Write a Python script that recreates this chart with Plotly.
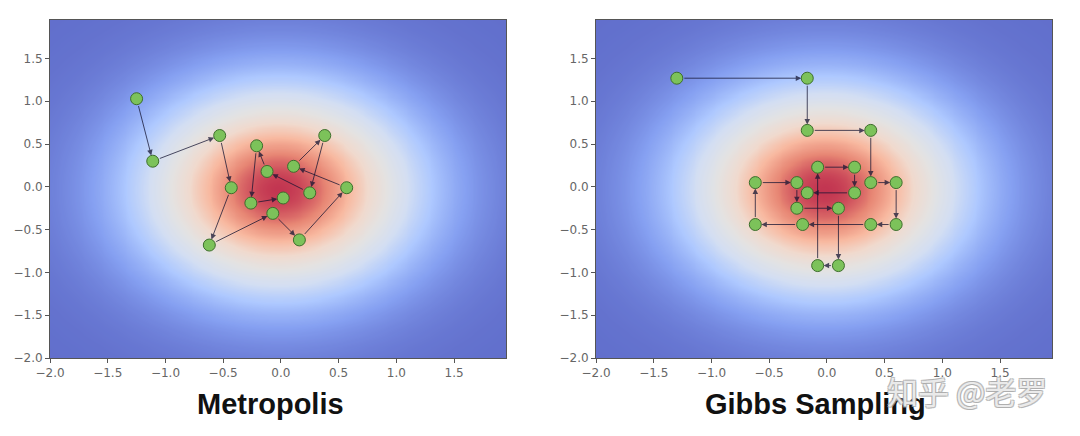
import numpy as np
import plotly.graph_objects as go

# Metropolis chain
metro_x = [-1.25, -1.11, -0.53, -0.43, -0.62, -0.07, 0.16, 0.57, 0.11, 0.38, 0.25, -0.12, -0.21, -0.26, 0.02]
metro_y = [1.03, 0.30, 0.60, -0.01, -0.68, -0.31, -0.62, -0.01, 0.24, 0.60, -0.07, 0.18, 0.48, -0.19, -0.13]

# Gibbs chain: every step moves along one axis only
gibbs_x = [-1.30, -0.17, -0.17, 0.38, 0.38, 0.60, 0.60, 0.38, -0.21, -0.62,
           -0.62, -0.26, -0.26, 0.10, 0.10, -0.08, -0.08, 0.24, 0.24, -0.17]
gibbs_y = [1.27, 1.27, 0.66, 0.66, 0.05, 0.05, -0.44, -0.44, -0.44, -0.44,
           0.05, 0.05, -0.25, -0.25, -0.92, -0.92, 0.23, 0.23, -0.07, -0.07]

titles = ["Metropolis", "Gibbs Sampling"]
tick_vals = [-2.0, -1.5, -1.0, -0.5, 0.0, 0.5, 1.0, 1.5]

# target density: isotropic gaussian
mu_x, mu_y, sigma = -0.02, -0.03, 0.8
grid = np.linspace(-2, 1.95, 160)
gx, gy = np.meshgrid(grid, grid)
dens = np.exp(-((gx - mu_x) ** 2 + (gy - mu_y) ** 2) / (2 * sigma ** 2))
dens = (dens - dens.min()) / (dens.max() - dens.min())

# matplotlib coolwarm
coolwarm = [
    [0.0, "#3b4cc0"], [0.125, "#6788ee"], [0.25, "#9abbff"], [0.375, "#c9d7f0"],
    [0.5, "#dddcdc"], [0.625, "#edd1c2"], [0.75, "#f7a889"], [0.875, "#e26952"],
    [1.0, "#b40426"],
]

fig = go.Figure()

domains = [[50 / 1080, 506 / 1080], [596 / 1080, 1052 / 1080]]
ydom = [78 / 436, 416 / 436]
title_x = [270 / 1080, 815 / 1080]
chains = [(metro_x, metro_y), (gibbs_x, gibbs_y)]

for i, (xs, ys) in enumerate(chains):
    sfx = "" if i == 0 else "2"
    xa, ya = "x" + sfx, "y" + sfx

    fig.add_trace(go.Heatmap(
        x=grid, y=grid, z=dens,
        colorscale=coolwarm, zmin=0, zmax=1,
        zsmooth="best", opacity=0.8, showscale=False,
        hoverinfo="skip", xaxis=xa, yaxis=ya,
    ))

    # arrows between consecutive states
    for j in range(len(xs) - 1):
        fig.add_annotation(
            x=xs[j + 1], y=ys[j + 1], ax=xs[j], ay=ys[j],
            xref=xa, yref=ya, axref=xa, ayref=ya,
            text="", showarrow=True,
            arrowhead=2, arrowsize=1.1, arrowwidth=1,
            arrowcolor="rgba(20,20,50,0.75)",
            standoff=6, startstandoff=6,
        )

    fig.add_trace(go.Scatter(
        x=xs, y=ys, mode="markers",
        marker=dict(size=12, color="#7cc25a", line=dict(width=1, color="#3d6e2c")),
        showlegend=False, xaxis=xa, yaxis=ya,
    ))

    axis_common = dict(
        range=[-2, 1.95], tickvals=tick_vals, tickformat=".1f",
        ticks="outside", ticklen=4, tickwidth=1, tickcolor="#555",
        showgrid=False, zeroline=False, automargin=False,
        showline=True, linecolor="#555", linewidth=1, mirror=True,
        tickfont=dict(family="DejaVu Sans", size=12, color="#666"),
    )
    fig.update_layout(**{
        "xaxis" + sfx: dict(axis_common, domain=domains[i], anchor=ya),
        "yaxis" + sfx: dict(axis_common, domain=ydom, anchor=xa),
    })

    fig.add_annotation(
        text="<b>%s</b>" % titles[i], xref="paper", yref="paper",
        x=title_x[i], y=32 / 436, xanchor="center", yanchor="middle",
        showarrow=False,
        font=dict(family="Liberation Sans", size=29, color="#111"),
    )

# watermark
fig.add_annotation(
    text="知乎 @老罗", xref="paper", yref="paper", x=967 / 1080, y=46 / 436,
    xanchor="center", yanchor="middle", showarrow=False,
    font=dict(family="Noto Sans CJK SC", size=31, color="rgba(255,255,255,0.75)",
              shadow="1px 1px 0 #aaa, -1px -1px 0 #aaa, 1px -1px 0 #aaa, -1px 1px 0 #aaa"),
)

fig.update_layout(
    width=1080, height=436,
    margin=dict(l=0, r=0, t=0, b=0, autoexpand=False),
    paper_bgcolor="white", plot_bgcolor="white",
    showlegend=False,
)

# drop the browser's default body margin so the figure sits at 0,0
fig.write_html("out.html", config={"displayModeBar": False},
               post_script="document.body.style.margin='0';")
